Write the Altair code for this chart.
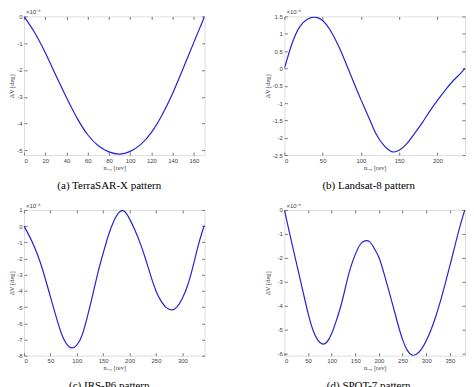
import altair as alt
import pandas as pd

# ---------------- data (values in units of 1e-4 deg) ----------------
a_x = [0, 10, 20, 30, 40, 50, 60, 70, 80, 90, 100, 110, 120, 130, 140, 150, 160, 170]
a_y = [0, -0.6, -1.35, -2.2, -3.03, -3.8, -4.42, -4.83, -5.06, -5.14, -5.04, -4.78,
       -4.33, -3.68, -2.87, -1.93, -0.96, 0]

b_x = [0, 10, 20, 30, 40, 50, 60, 70, 80, 90, 100, 110, 120, 130, 140, 150, 160, 170,
       180, 190, 200, 210, 220, 230, 236]
b_y = [0, 0.72, 1.2, 1.42, 1.48, 1.38, 1.1, 0.68, 0.17, -0.37, -0.9, -1.4, -1.9,
       -2.22, -2.4, -2.36, -2.17, -1.88, -1.57, -1.23, -0.92, -0.63, -0.37, -0.15, 0]

c_x = [0, 10, 20, 30, 40, 50, 60, 70, 80, 90, 100, 110, 120, 130, 140, 150, 160, 170,
       180, 190, 200, 210, 220, 230, 240, 250, 260, 270, 280, 290, 300, 310, 320, 330,
       340, 342]
c_y = [0, -0.6, -1.3, -2.15, -3.2, -4.35, -5.5, -6.55, -7.25, -7.52, -7.35, -6.74,
       -5.6, -4.27, -2.88, -1.67, -0.56, 0.3, 0.85, 0.92, 0.45, -0.24, -1.05, -2.0,
       -3.06, -4.0, -4.65, -5.05, -5.17, -4.98, -4.45, -3.65, -2.5, -1.2, -0.1, 0]

d_x = [0, 10, 20, 30, 40, 50, 60, 70, 80, 90, 100, 110, 120, 130, 140, 150, 160, 170,
       180, 190, 200, 210, 220, 230, 240, 250, 260, 270, 280, 290, 300, 310, 320, 330,
       340, 350, 360, 370, 380, 382]
d_y = [0, -0.88, -1.75, -2.6, -3.45, -4.3, -4.98, -5.4, -5.58, -5.5, -5.15, -4.6,
       -3.96, -3.15, -2.4, -1.85, -1.45, -1.29, -1.32, -1.6, -1.98, -2.6, -3.3,
       -4.02, -4.75, -5.4, -5.85, -6.05, -6.0, -5.8, -5.45, -5.0, -4.45, -3.8,
       -3.08, -2.32, -1.55, -0.78, -0.1, 0]

a_xticks = [0, 20, 40, 60, 80, 100, 120, 140, 160]
a_yticks = [-5, -4, -3, -2, -1, 0]
b_xticks = [0, 50, 100, 150, 200]
b_yticks = [-2.5, -2, -1.5, -1, -0.5, 0, 0.5, 1, 1.5]
c_xticks = [0, 50, 100, 150, 200, 250, 300]
c_yticks = [-8, -7, -6, -5, -4, -3, -2, -1, 0, 1]
d_xticks = [0, 50, 100, 150, 200, 250, 300, 350]
d_yticks = [-6, -5, -4, -3, -2, -1, 0]

captions = ["(a)  TerraSAR-X pattern", "(b)  Landsat-8 pattern",
            "(c)  IRS-P6 pattern", "(d)  SPOT-7 pattern"]
exponent = "\u00d710\u207b\u2074"
x_title = "n\u2093,\u1d67 [rev]"
y_title = "\u0394V [deg]"

BLUE = "#2424d2"
GREY = "#777777"
LABEL = "#444444"


def panel(xs, ys, xdom, ydom, xticks, yticks, caption, w, h, yext, cdx):
    df = pd.DataFrame({"x": xs, "y": ys})
    xsc = alt.Scale(domain=xdom, nice=False, zero=False)
    ysc = alt.Scale(domain=ydom, nice=False, zero=False)
    common = dict(tickSize=3, offset=-3, domain=False, grid=False, tickColor=GREY,
                  labelFont="Liberation Sans", labelFontSize=6, labelColor=LABEL,
                  titleFont="Liberation Serif", titleFontSize=6.5, titleColor=LABEL,
                  titleFontWeight="normal", labelExpr="'' + datum.value")
    line = alt.Chart(df).mark_line(color=BLUE, strokeWidth=1.2,
                                   interpolate="natural", clip=True).encode(
        x=alt.X("x:Q", scale=xsc,
                axis=alt.Axis(values=xticks, orient="bottom", title=x_title,
                              labelPadding=2, titlePadding=1, **common)),
        y=alt.Y("y:Q", scale=ysc,
                axis=alt.Axis(values=yticks, orient="left", title=y_title,
                              labelPadding=2, titlePadding=1, minExtent=yext,
                              maxExtent=yext, **common)),
    )
    frame = alt.Chart(df).mark_line(opacity=0).encode(
        x=alt.X("x:Q", scale=xsc,
                axis=alt.Axis(values=xticks, orient="top", labels=False, title=None,
                              **common)),
        y=alt.Y("y:Q", scale=ysc,
                axis=alt.Axis(values=yticks, orient="right", labels=False, title=None,
                              **common)),
    )
    exp = alt.Chart(pd.DataFrame({"t": [exponent]})).mark_text(
        align="left", baseline="bottom", font="Liberation Sans", fontSize=6,
        color=LABEL, dx=2, dy=-1,
    ).encode(text="t:N", x=alt.value(0), y=alt.value(0))
    return alt.layer(line, frame, exp).resolve_axis(
        x="independent", y="independent"
    ).properties(
        width=w, height=h,
        title=alt.TitleParams(caption, orient="bottom", anchor="middle",
                              font="Liberation Serif", fontSize=11,
                              fontWeight="normal", color="black", offset=9, dx=cdx),
    )


pa = panel(a_x, a_y, [0, 170], [-5.18, 0], a_xticks, a_yticks, captions[0], 181, 139, 11, -5)
pb = panel(b_x, b_y, [0, 236], [-2.5, 1.5], b_xticks, b_yticks, captions[1], 181, 139, 16, -6)
pc = panel(c_x, c_y, [0, 342], [-8, 1], c_xticks, c_yticks, captions[2], 181, 146, 11, -5)
pd_ = panel(d_x, d_y, [0, 382], [-6.07, 0], d_xticks, d_yticks, captions[3], 181, 146, 16, -6)

chart = alt.vconcat(
    alt.hconcat(pa, pb, spacing=58),
    alt.hconcat(pc, pd_, spacing=58),
    spacing=11,
).properties(
    padding=0
).configure_view(
    stroke=GREY, strokeWidth=1
).configure(background="white")

chart.save("out.html", embed_options={"renderer": "svg", "actions": False})
